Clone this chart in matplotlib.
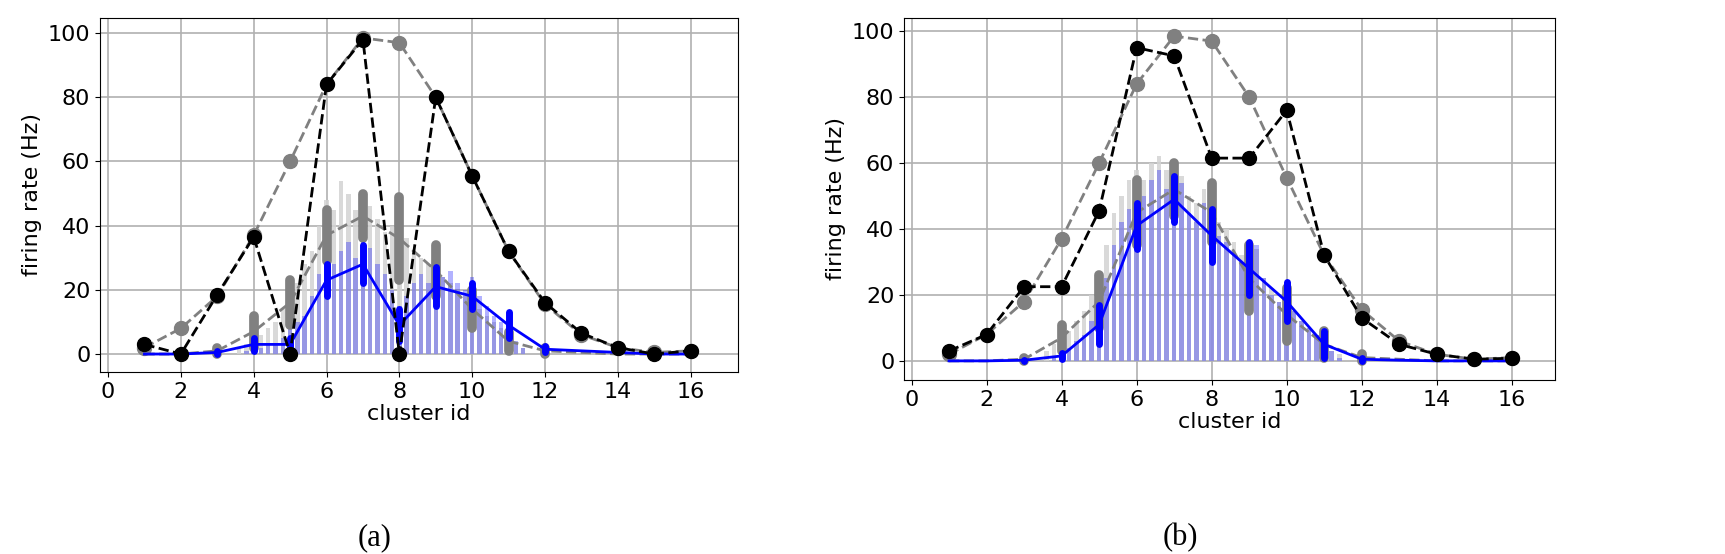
import numpy as np
import matplotlib
matplotlib.use("Agg")
import matplotlib.pyplot as plt

clusters = list(range(1, 17))
bar_x = [3.6 + 0.2 * i for i in range(40)]

peak_grey = [2, 8, 18, 37, 60, 84, 98.5, 97, 80, 55.5, 32, 15.5, 6, 2, 0.5, 1]
black_a = [3, 0, 18.5, 36.5, 0, 84, 98, 0, 80, 55.5, 32, 16, 6.5, 2, 0, 1]
black_b = [3, 8, 22.5, 22.5, 45.5, 95, 92.5, 61.5, 61.5, 76, 32, 13, 5, 2, 0.5, 0.8]

grey_mean_a = [0, 0, 1, 7, 16, 37, 43, 36, 26, 14, 4, 1, 0.5, 0, 0, 0]
grey_err_a = [0, 0, 1, 5, 7, 8, 7, 13, 8, 6, 3, 1, 0, 0, 0, 0]
blue_mean_a = [0, 0, 0.5, 3, 3, 23, 28, 9, 21, 18, 9, 1.5, 1, 0.5, 0, 0]
blue_err_a = [0, 0, 0.5, 2, 2, 5, 6, 5, 6, 4, 4, 1, 0, 0, 0, 0]

grey_mean_b = [0, 0, 0.5, 7, 18, 45, 52, 45, 25, 14, 5, 1, 0.5, 0, 0, 0]
grey_err_b = [0, 0, 0.5, 4, 8, 10, 8, 9, 10, 8, 4, 1, 0, 0, 0, 0]
blue_mean_b = [0, 0, 0.2, 1.5, 11, 41, 49, 38, 28, 18, 5, 0.5, 0.2, 0, 0, 0]
blue_err_b = [0, 0, 0.2, 1, 6, 7, 7, 8, 8, 6, 4, 0.5, 0, 0, 0, 0]

bars_blue_a = [0,1,1,2,3, 3,5,8,10,12, 18,25,30,28,32, 35,30,38,33,28,
               25,20,15,18,22, 25,22,20,24,26, 22,20,24,18,15, 12,10,8,4,2]
bars_grey_a = [2,3,5,6,8, 10,14,18,22,28, 32,40,48,45,54, 50,45,48,46,42,
               38,40,44,36,32, 30,28,26,24,22, 20,18,15,14,12, 10,8,5,3,2]
bars_blue_b = [0,1,2,4,6, 8,12,18,25,35, 42,46,52,50,55, 58,52,48,54,45,
               42,48,40,38,36, 32,30,28,35,25, 20,18,22,15,12, 10,8,5,3,1]
bars_grey_b = [3,5,7,9,12, 15,20,25,35,45, 50,55,58,55,60, 62,58,55,56,50,
               48,52,45,42,40, 36,32,30,34,25, 22,18,20,15,12, 10,8,6,3,2]

fig = plt.figure(figsize=(17.25, 5.54), dpi=100)
W, H = 1725, 554
specs = [
    (100, 738, 18, 372, (-0.22, 17.3), (-5.6, 104.7), black_a, grey_mean_a, grey_err_a,
     blue_mean_a, blue_err_a, bars_grey_a, bars_blue_a, "(a)", 375),
    (904, 1555, 18, 380, (-0.2, 17.15), (-5.8, 104), black_b, grey_mean_b, grey_err_b,
     blue_mean_b, blue_err_b, bars_grey_b, bars_blue_b, "(b)", 1180),
]
for (l, r, t, b, xl, yl, blk, gm, ge, bm, be, bg, bb, cap, cx) in specs:
    ax = fig.add_axes([l / W, 1 - b / H, (r - l) / W, (b - t) / H])
    ax.grid(True, color="#b0b0b0", lw=1.2)
    ax.set_axisbelow(True)
    ax.bar(bar_x, bg, width=0.12, color="lightgray", alpha=0.85, zorder=2)
    ax.bar(bar_x, bb, width=0.12, color="blue", alpha=0.3, zorder=2.5)
    ax.plot(clusters, peak_grey, "--o", color="gray", ms=10, lw=2, zorder=3)
    _, _, eg = ax.errorbar(clusters, gm, yerr=ge, fmt="--", color="gray", elinewidth=7, lw=2, zorder=4)
    _, _, eb = ax.errorbar(clusters, bm, yerr=be, fmt="-", color="blue", elinewidth=5, lw=2, zorder=5)
    for c in list(eg) + list(eb):
        c.set_capstyle("round")
    ax.plot(clusters, blk, "--o", color="black", ms=10, lw=2, zorder=6)
    ax.set_xlim(*xl)
    ax.set_ylim(*yl)
    ax.set_xticks(range(0, 17, 2))
    ax.set_yticks(range(0, 101, 20))
    ax.tick_params(labelsize=16)
    ax.set_xlabel("cluster id", fontsize=16, labelpad=2)
    ax.set_ylabel("firing rate (Hz)", fontsize=16)
    fig.text(cx / W, 1 - 538 / H, cap, fontsize=22, family="Liberation Serif",
             ha="center", va="center")

fig.savefig("out.png", dpi=100)
